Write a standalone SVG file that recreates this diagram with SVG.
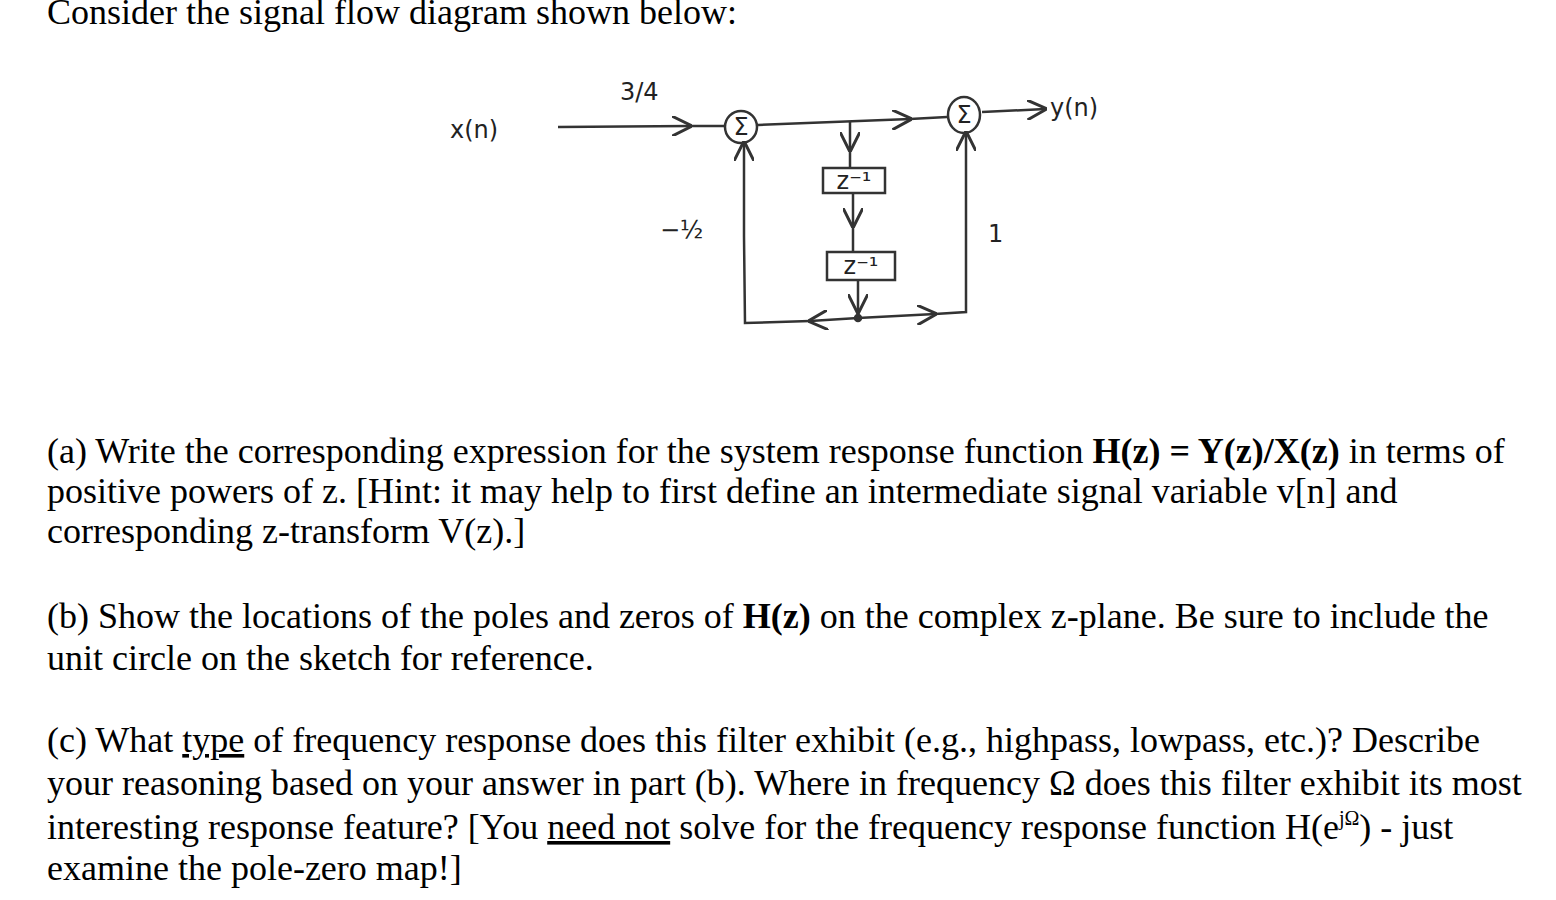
<svg xmlns="http://www.w3.org/2000/svg" width="1556" height="900" viewBox="0 0 1556 900">
<style>
.t{font-family:"Liberation Serif",serif;font-size:36px;fill:#000}
.h{font-family:"DejaVu Sans",sans-serif;font-size:24px;fill:#222}
.w{stroke:#333;stroke-width:2.5;fill:none}
</style>
<defs><marker id="a" viewBox="0 0 10 10" refX="9" refY="5" markerWidth="8" markerHeight="8" orient="auto"><path d="M0,0 L10,5 L0,10" fill="none" stroke="#333" stroke-width="1.5"/></marker></defs>
<rect width="1556" height="900" fill="#fff"/>
<text class="t" x="47" y="24">Consider the signal flow diagram shown below:</text>
<g id="connectors" class="w">
<path d="M558,127 L690,126" marker-end="url(#a)"/><path d="M690,126 L725,126"/>
<path d="M758,125 L910,119" marker-end="url(#a)"/><path d="M910,119 L947,117"/>
<path d="M850,122 L850,150" marker-end="url(#a)"/><path d="M850,150 L850,168"/>
<path d="M853,193 L853,226" marker-end="url(#a)"/><path d="M853,226 L853,252"/>
<path d="M858,280 L858,312" marker-end="url(#a)"/><path d="M858,312 L858,318"/>
<path d="M858,318 L810,321" marker-end="url(#a)"/><path d="M810,321 L745,323 L744,236" /><path d="M744,236 L744,143" marker-end="url(#a)"/>
<path d="M858,318 L935,314" marker-end="url(#a)"/><path d="M935,314 L966,312 L966,228"/><path d="M966,228 L966,133" marker-end="url(#a)"/>
<path d="M982,112 L1045,109" marker-end="url(#a)"/>
<circle cx="858" cy="318" r="3" fill="#333"/>
</g>
<g id="sum1"><circle class="w" cx="741" cy="127" r="16"/><text class="h" x="741" y="135" text-anchor="middle" font-size="20">Σ</text></g>
<g id="sum2"><ellipse class="w" cx="964" cy="115" rx="16" ry="18"/><text class="h" x="964" y="123" text-anchor="middle" font-size="20">Σ</text></g>
<g id="delay1"><rect class="w" x="823" y="168" width="62" height="25"/><text class="h" x="854" y="189" text-anchor="middle" font-size="18">z⁻¹</text></g>
<g id="delay2"><rect class="w" x="827" y="252" width="68" height="28"/><text class="h" x="861" y="274" text-anchor="middle" font-size="18">z⁻¹</text></g>
<g id="labels">
<text class="h" x="450" y="138">x(n)</text>
<text class="h" x="620" y="100">3/4</text>
<text class="h" x="1050" y="116">y(n)</text>
<text class="h" x="660" y="238">−½</text>
<text class="h" x="988" y="242">1</text>
</g>
<g id="text">
<text class="t" x="47" y="463">(a) Write the corresponding expression for the system response function <tspan font-weight="bold">H(z) = Y(z)/X(z)</tspan> in terms of</text>
<text class="t" x="47" y="503">positive powers of z. [Hint: it may help to first define an intermediate signal variable v[n] and</text>
<text class="t" x="47" y="543">corresponding z-transform V(z).]</text>
<text class="t" x="47" y="628">(b) Show the locations of the poles and zeros of <tspan font-weight="bold">H(z)</tspan> on the complex z-plane.  Be sure to include the</text>
<text class="t" x="47" y="670">unit circle on the sketch for reference.</text>
<text class="t" x="47" y="752">(c) What <tspan text-decoration="underline">type</tspan> of frequency response does this filter exhibit (e.g., highpass, lowpass, etc.)?  Describe</text>
<text class="t" x="47" y="795">your reasoning based on your answer in part (b).  Where in frequency Ω does this filter exhibit its most</text>
<text class="t" x="47" y="839">interesting response feature? [You <tspan text-decoration="underline">need not</tspan> solve for the frequency response function H(e<tspan font-size="20" dy="-14">jΩ</tspan><tspan dy="14">) - just</tspan></text>
<text class="t" x="47" y="880">examine the pole-zero map!]</text>
</g>
</svg>
